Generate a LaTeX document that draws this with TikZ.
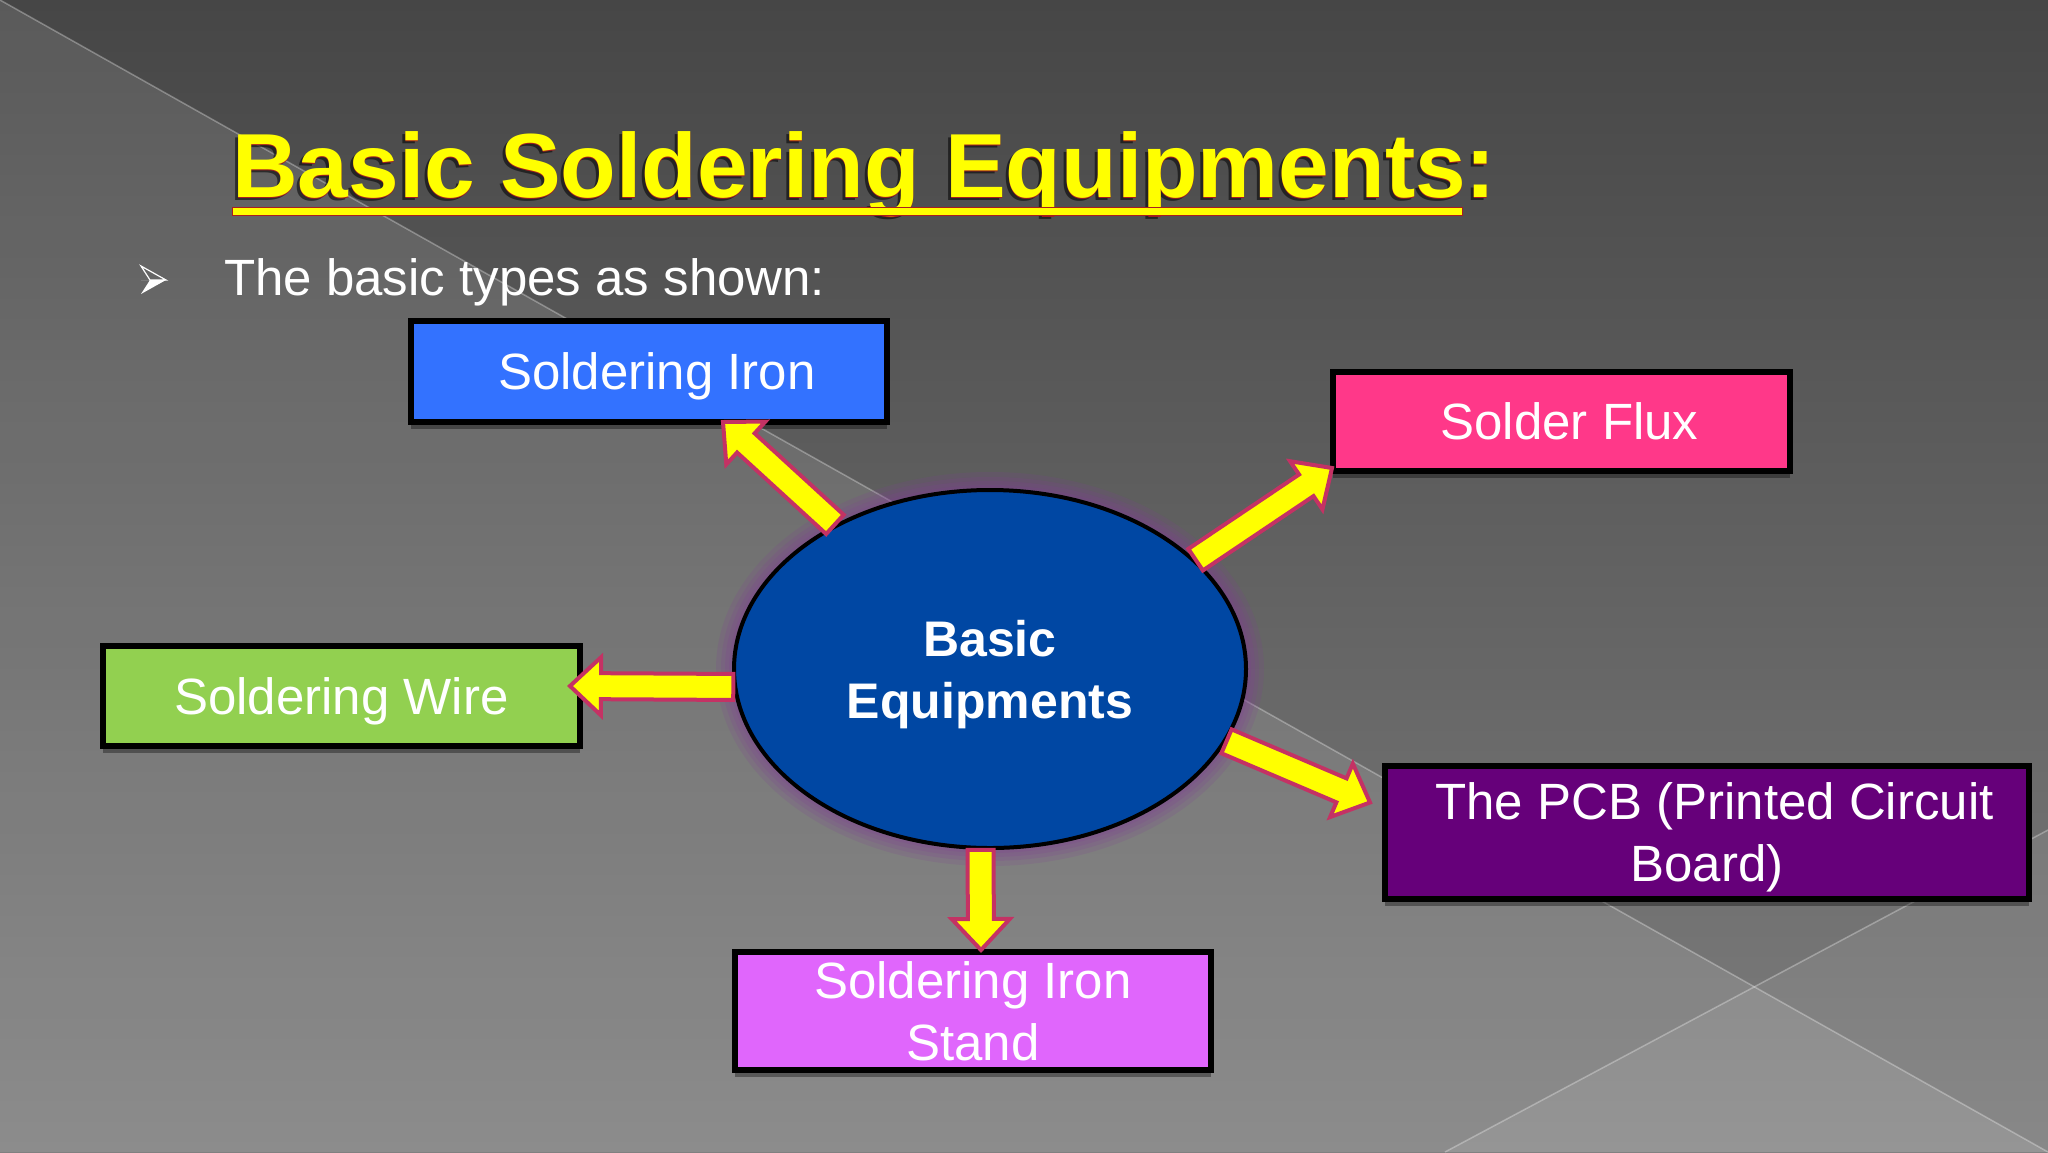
\documentclass[tikz,border=0pt]{standalone}
\usepackage{fontspec}
\setmainfont{Liberation Sans}
\usetikzlibrary{calc,shapes.geometric,shadows}
\definecolor{bgtop}{RGB}{70,70,70}
\definecolor{bgmid}{RGB}{92,92,92}
\definecolor{bgbot}{RGB}{126,126,126}
\definecolor{ironblue}{RGB}{51,114,255}
\definecolor{fluxpink}{RGB}{255,56,137}
\definecolor{wiregreen}{RGB}{146,208,80}
\definecolor{pcbpurple}{RGB}{102,0,122}
\definecolor{standviolet}{RGB}{224,102,252}
\definecolor{ellblue}{RGB}{0,71,163}
\definecolor{arrowedge}{RGB}{196,50,100}
\definecolor{glowpurple}{RGB}{130,60,150}
\definecolor{titleyellow}{RGB}{255,255,0}
\definecolor{titlered}{RGB}{170,30,30}
\tikzset{
  eqbox/.style={draw=black, line width=6pt, inner sep=0pt, text=white, align=center,
    text depth=-7pt, font=\fontsize{51}{62}\selectfont,
    drop shadow={shadow xshift=0pt, shadow yshift=-7pt, opacity=0.35, fill=black}},
  blockarr/.style={fill=titleyellow, draw=arrowedge, line width=4pt, line join=miter, miter limit=10},
  bgline/.style={draw=white, opacity=0.3, line width=1.5pt},
  titlefont/.style={font=\bfseries\fontsize{91}{100}\selectfont},
}
\newcommand\blockarrow[2]{%
  \coordinate (#1hd) at ($(#2)!31pt!(#1)$);
  \draw[blockarr] ($(#1)!13pt!90:(#2)$) -- ($(#1hd)!13pt!90:(#2)$) -- ($(#1hd)!29pt!90:(#2)$)
    -- (#2) -- ($(#1hd)!29pt!-90:(#2)$) -- ($(#1hd)!13pt!-90:(#2)$) -- ($(#1)!13pt!-90:(#2)$) -- cycle;
}
\begin{document}
\begin{tikzpicture}[x=1pt,y=-1pt]
\useasboundingbox (0,0) rectangle (2048,1152);
% background
\shade[top color=bgtop, middle color=bgmid, bottom color=bgbot] (0,0) rectangle (2048,1152);
\fill[white, opacity=0.11] (0,0) -- (2048,1152) -- (0,1152) -- cycle;
\fill[white, opacity=0.08] (1445,1152) -- (2048,830) -- (2048,1152) -- cycle;
\draw[bgline] (0,0) -- (2048,1152);
\draw[bgline] (1445,1152) -- (2048,830);
% title
\node (titleshadow) [anchor=base west, inner sep=0pt, text=black, opacity=0.55, titlefont] at (229,200) {Basic Soldering Equipments:};
\node (titlered) [anchor=base west, inner sep=0pt, text=titlered, titlefont] at (232,198.5) {Basic Soldering Equipments:};
\node (title) [anchor=base west, inner sep=0pt, text=titleyellow, titlefont] at (232,197) {Basic Soldering Equipments:};
\draw[titlered, fill=titleyellow, line width=1pt] (232,207) rectangle (1462,215);
% bullet
\fill[white] (141,280) -- (166,280) -- (141,294) -- (150,280) -- cycle;
\draw[white, line width=1.2pt, line join=miter] (141,266) -- (166,280) -- (150,280) -- cycle;
\node (bullet) [anchor=base west, inner sep=0pt, text=white, font=\fontsize{51}{62}\selectfont] at (224,295) {The basic types as shown:};
% boxes
\node (iron)  [eqbox, fill=ironblue,    minimum width=476pt, minimum height=101pt] at (649,371.5)  {\hspace*{16pt}Soldering Iron};
\node (flux)  [eqbox, fill=fluxpink,    minimum width=457pt, minimum height=99pt]  at (1561.5,421.5) {\hspace*{16pt}Solder Flux};
\node (wire)  [eqbox, fill=wiregreen,   minimum width=477pt, minimum height=100pt] at (341.5,696)  {Soldering Wire};
\node (pcb)   [eqbox, fill=pcbpurple,   minimum width=644pt, minimum height=133pt] at (1707,832.5) {\hspace*{15pt}The PCB (Printed Circuit\\Board)};
\node (stand) [eqbox, fill=standviolet, minimum width=476pt, minimum height=118pt] at (973,1011)   {Soldering Iron\\Stand};
% central ellipse with glow
\foreach \g in {18,13,9,5} \fill[glowpurple, opacity=0.16] (990,669) ellipse [x radius=256+\g, y radius=179+\g];
\node (ell) [ellipse, fill=ellblue, draw=black, line width=4pt, minimum width=512pt, minimum height=358pt,
  inner sep=0pt, text=white, align=center, text depth=0pt, font=\bfseries\fontsize{50}{62}\selectfont]
  at (990,669) {Basic\\Equipments};
% arrows
\coordinate (a1t) at (ell.137);
\coordinate (a1p) at ($(iron.south)+(74,-3)$);
\coordinate (a2t) at (ell.28);
\coordinate (a2p) at ($(flux.south west)+(2,-6)$);
\coordinate (a3t) at (ell.184);
\coordinate (a3p) at ($(wire.east)+(-13,-10)$);
\coordinate (a4t) at (ell.343);
\coordinate (a4p) at ($(pcb.west)+(-12,-30)$);
\coordinate (a5t) at (ell.267);
\coordinate (a5p) at ($(stand.north)+(8,1)$);
\blockarrow{a1t}{a1p}
\blockarrow{a2t}{a2p}
\blockarrow{a3t}{a3p}
\blockarrow{a4t}{a4p}
\blockarrow{a5t}{a5p}
\end{tikzpicture}
\end{document}
